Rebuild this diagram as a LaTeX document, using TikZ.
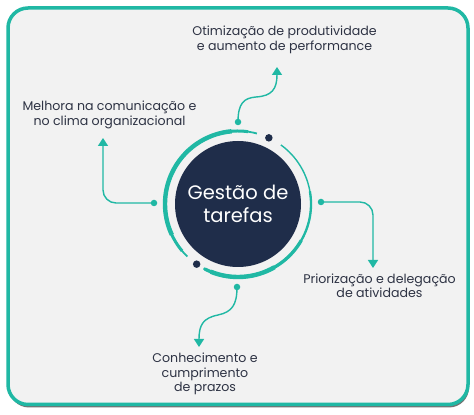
\documentclass[tikz,border=0pt]{standalone}
\usepackage{fontspec}
\setmainfont{Poppins}
\usetikzlibrary{arrows.meta,calc}
\definecolor{tealc}{RGB}{32,184,164}
\definecolor{navyc}{RGB}{31,45,74}
\definecolor{txtc}{RGB}{46,51,68}
\definecolor{bgc}{RGB}{242,242,242}
\tikzset{
  lbl/.style={align=center, text=txtc, font=\fontsize{12.6}{14.5}\selectfont, inner sep=0pt},
  conn/.style={draw=tealc, line width=1.4pt, -{Triangle[length=8pt,width=10pt]}},
  tdot/.style={circle, fill=tealc, inner sep=0pt, minimum size=6.5pt},
  ndot/.style={circle, fill=navyc, inner sep=0pt, minimum size=7.5pt},
}
\begin{document}
\begin{tikzpicture}[x=1pt,y=1pt]
\useasboundingbox (0,0) rectangle (474,415);
\fill[white] (0,0) rectangle (474,415);
% frame with shadow
\fill[black!55, rounded corners=20pt] (9,7.5) rectangle (469,405);
\draw[tealc, line width=3.5pt, fill=bgc, rounded corners=20pt] (8,10.5) rectangle (468,407);
% center
\node[circle, fill=navyc, minimum size=126pt, inner sep=0pt, text=white, align=center,
  font=\fontsize{19.5}{23}\selectfont] (c) at (238,211) {Gestão de\\tarefas};
% rings
\foreach \w/\a/\b in {1.8/75/226, 3/82/220, 4.4/95/205}
  \draw[tealc, line width=\w pt] (c.center) ++(\a:73) arc[start angle=\a, end angle=\b, radius=73];
\foreach \w/\a/\b in {1.4/54/-118, 2.3/10/-118, 3.3/-30/-117, 4.4/-60/-112}
  \draw[tealc, line width=\w pt] (c.center) ++(\a:73) arc[start angle=\a, end angle=\b, radius=73];
\node[ndot] (n1) at ($(c.center)+(65:73)$) {};
\node[ndot] (n2) at ($(c.center)+(235.5:73)$) {};
% connector dots
\node[tdot] (dT) at (238,293) {};
\node[tdot] (dL) at (154,212) {};
\node[tdot] (dR) at (321,213) {};
\node[tdot] (dB) at (237,128) {};
\coordinate (tT) at (277,348);
\coordinate (tL) at (103,277);
\coordinate (tR) at (373,147);
\coordinate (tB) at (199,68);
% connectors
\draw[conn] (dT.center) .. controls (238,312) and (244,317) .. (256,318) .. controls (272,319) and (277,326) .. (tT);
\draw[conn, rounded corners=13pt] (dL.center) -| (tL);
\draw[conn, rounded corners=13pt] (dR.center) -| (tR);
\draw[conn] (dB.center) .. controls (237,110) and (232,103) .. (218,100) .. controls (203,97) and (199,90) .. (tB);
% labels
\node[lbl] (lT) at (284.5,375) {Otimização de produtividade\\e aumento de performance};
\node[lbl] (lL) at (109.5,300) {Melhora na comunicação e\\no clima organizacional};
\node[lbl] (lR) at (379.5,129) {Priorização e delegação\\de atividades};
\node[lbl] (lB) at (205,41) {Conhecimento e\\cumprimento\\de prazos};
\end{tikzpicture}
\end{document}
